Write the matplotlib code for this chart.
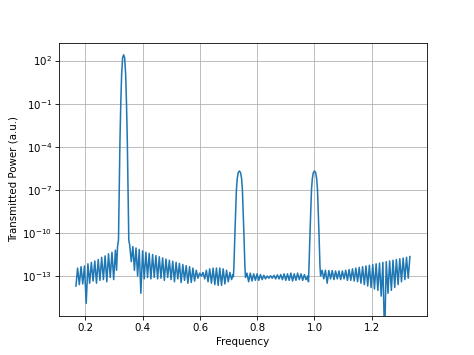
import matplotlib
matplotlib.use("Agg")
import matplotlib.pyplot as plt
import numpy as np

# readings: frequency and log10 of transmitted power
freq_left = [0.1667, 0.1725, 0.1785, 0.1845, 0.1905, 0.1965, 0.2025, 0.2085, 0.2145, 0.2205,
             0.2265, 0.2325, 0.2385, 0.2445, 0.2505, 0.2565, 0.2625, 0.2685, 0.2745, 0.2805,
             0.2865, 0.2925, 0.2985, 0.3045, 0.3085, 0.3120]
exp_left = [-13.7, -12.45, -13.6, -12.35, -13.55, -12.3, -14.9, -12.15, -13.5, -12.05,
            -13.35, -11.95, -13.5, -11.85, -13.3, -11.7, -13.25, -11.6, -13.4, -11.45,
            -13.1, -11.35, -13.25, -11.2, -12.6, -10.95]

freq_peak1 = [0.3153, 0.3205, 0.3233, 0.3263, 0.3298, 0.3333, 0.3368, 0.3403, 0.3433, 0.3461, 0.3513]
exp_peak1 = [-10.5, -3.55, -1.0, 1.05, 2.2, 2.4, 2.2, 1.05, -1.0, -3.55, -10.5]

freq_mid1 = [0.3545, 0.3600, 0.3655, 0.3710, 0.3765, 0.3822, 0.3878, 0.3935, 0.3995, 0.4052,
             0.4110, 0.4168, 0.4225, 0.4285, 0.4345, 0.4402, 0.4460, 0.4520, 0.4578, 0.4636,
             0.4695, 0.4755, 0.4812, 0.4872, 0.4930, 0.4990, 0.5048, 0.5108, 0.5165, 0.5225,
             0.5282, 0.5342, 0.5400, 0.5460, 0.5518, 0.5578, 0.5635, 0.5695, 0.5752, 0.5812,
             0.5870, 0.5930, 0.5988, 0.6048, 0.6105, 0.6165, 0.6222, 0.6282, 0.6340, 0.6400,
             0.6458, 0.6518, 0.6575, 0.6635, 0.6692, 0.6752, 0.6810, 0.6870, 0.6928, 0.6988,
             0.7045, 0.7105, 0.7150]
exp_mid1 = [-10.85, -12.0, -10.95, -12.6, -11.05, -13.0, -11.15, -14.2, -11.25, -13.2,
            -11.35, -13.1, -11.42, -13.2, -11.5, -13.1, -11.58, -13.2, -11.66, -13.15,
            -11.74, -13.3, -11.82, -13.1, -11.9, -13.25, -11.97, -13.4, -12.05, -13.2,
            -12.12, -13.45, -12.2, -13.3, -12.28, -13.5, -12.35, -13.45, -12.45, -13.35,
            -12.6, -13.15, -12.8, -13.0, -12.75, -13.2, -12.6, -13.4, -12.5, -13.5,
            -12.45, -13.6, -12.45, -13.65, -12.45, -13.65, -12.5, -13.55, -12.6, -13.4,
            -12.75, -13.25, -12.9]

freq_peak2 = [0.7167, 0.7185, 0.7220, 0.7272, 0.7302, 0.7337, 0.7377, 0.7417, 0.7452, 0.7482,
              0.7534, 0.7569, 0.7590]
exp_peak2 = [-13.05, -12.35, -10.03, -7.0, -6.2, -5.8, -5.69, -5.8, -6.2, -7.0,
             -10.03, -12.35, -13.1]

freq_mid2 = [0.7640, 0.7700, 0.7758, 0.7818, 0.7876, 0.7936, 0.7994, 0.8054, 0.8112, 0.8172,
             0.8230, 0.8290, 0.8348, 0.8408, 0.8466, 0.8526, 0.8584, 0.8644, 0.8702, 0.8762,
             0.8820, 0.8880, 0.8938, 0.8998, 0.9056, 0.9116, 0.9174, 0.9234, 0.9292, 0.9352,
             0.9410, 0.9470, 0.9528, 0.9588, 0.9646, 0.9706, 0.9764]
exp_mid2 = [-12.8, -13.4, -12.8, -13.35, -12.85, -13.3, -12.85, -13.3, -12.9, -13.25,
            -12.95, -13.2, -13.0, -13.15, -12.98, -13.15, -12.95, -13.2, -12.92, -13.2,
            -12.9, -13.25, -12.85, -13.3, -12.85, -13.3, -12.8, -13.35, -12.85, -13.3,
            -12.8, -13.25, -12.85, -13.3, -12.9, -13.25, -13.0]

freq_peak3 = [0.9790, 0.9808, 0.9843, 0.9895, 0.9925, 0.9960, 1.0000, 1.0040, 1.0075, 1.0105,
              1.0157, 1.0192, 1.0213]
exp_peak3 = [-13.4, -12.35, -10.03, -7.0, -6.2, -5.8, -5.69, -5.8, -6.2, -7.0,
             -10.03, -12.35, -13.0]

freq_right = [1.0265, 1.0325, 1.0383, 1.0443, 1.0501, 1.0561, 1.0619, 1.0679, 1.0737, 1.0797,
              1.0855, 1.0915, 1.0973, 1.1033, 1.1091, 1.1151, 1.1209, 1.1269, 1.1327, 1.1387,
              1.1445, 1.1505, 1.1563, 1.1623, 1.1681, 1.1741, 1.1799, 1.1859, 1.1917, 1.1977,
              1.2035, 1.2095, 1.2153, 1.2213, 1.2271, 1.2331, 1.2389, 1.2449, 1.2507, 1.2567,
              1.2625, 1.2685, 1.2743, 1.2803, 1.2861, 1.2921, 1.2979, 1.3039, 1.3097, 1.3157,
              1.3215, 1.3275, 1.3333]
exp_right = [-12.6, -13.2, -12.6, -13.5, -12.62, -13.2, -12.62, -13.25, -12.65, -13.2,
             -12.65, -13.25, -12.65, -13.2, -12.6, -13.3, -12.55, -13.3, -12.5, -13.35,
             -12.45, -13.4, -12.4, -13.5, -12.35, -13.6, -12.3, -13.7, -12.25, -13.8,
             -12.2, -13.9, -12.15, -14.0, -12.1, -14.4, -12.05, -17.5, -12.0, -14.2,
             -11.95, -14.0, -11.9, -13.8, -11.85, -13.6, -11.8, -13.4, -11.75, -13.25,
             -11.7, -13.15, -11.65]

freq = np.concatenate([freq_left, freq_peak1, freq_mid1, freq_peak2,
                       freq_mid2, freq_peak3, freq_right])
power = 10.0 ** np.concatenate([exp_left, exp_peak1, exp_mid1, exp_peak2,
                                exp_mid2, exp_peak3, exp_right])

fig = plt.figure(figsize=(474 / 74, 355 / 74), dpi=74)
ax = fig.add_subplot(111)
ax.semilogy(freq, power)
ax.set_ylim(10 ** -15.78, 10 ** 3.25)
ax.set_xlabel('Frequency')
ax.set_ylabel('Transmitted Power (a.u.)')
ax.grid(True)

fig.savefig('out.png', dpi=74)
